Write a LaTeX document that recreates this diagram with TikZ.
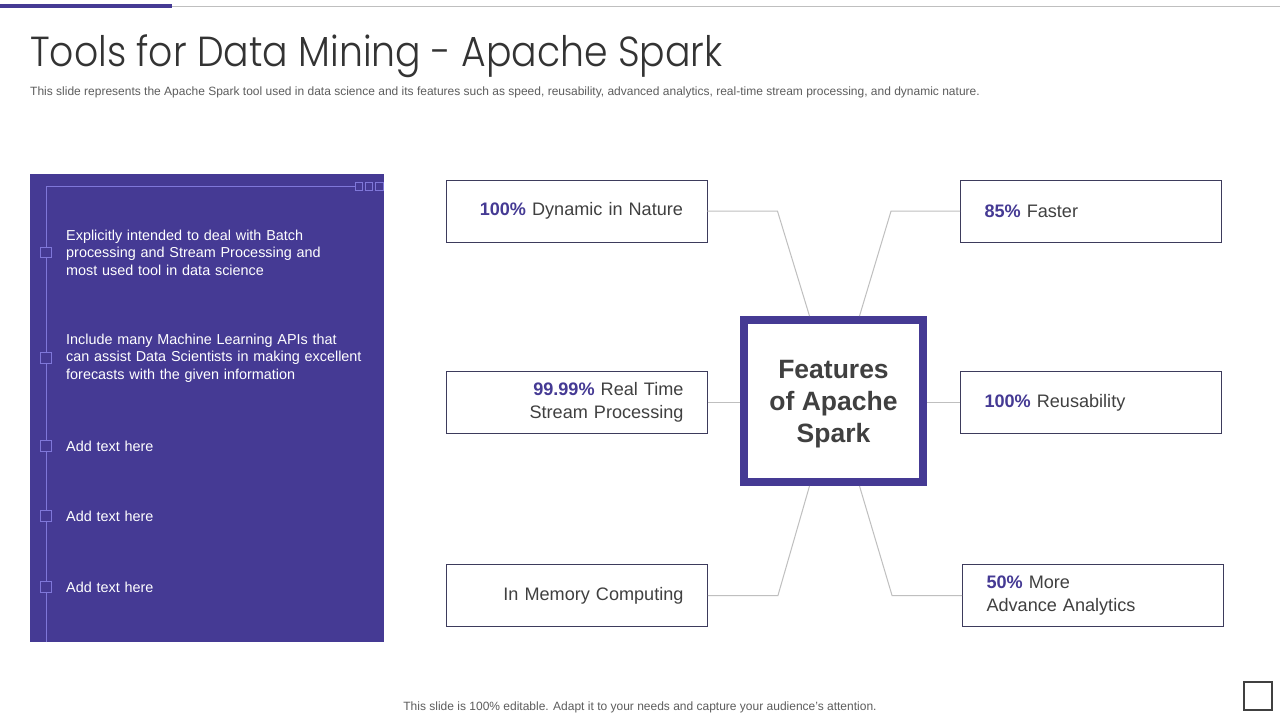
\documentclass[tikz,border=0pt]{standalone}
\usepackage{fontspec}
\setmainfont{Liberation Sans}
\newfontfamily\titlefont[FakeStretch=0.9]{Poppins Light}
\usetikzlibrary{positioning}

\definecolor{spark}{HTML}{453A94}
\definecolor{ink}{HTML}{404040}
\definecolor{frame}{HTML}{3D3B5C}
\definecolor{wire}{HTML}{BFBFBF}
\definecolor{lilac}{HTML}{7F77D9}

\tikzset{
	feature/.style={draw=frame,line width=.9pt,minimum width=261,minimum height=62,
		text width=213,inner xsep=24,inner ysep=0,text=ink,
		font=\fontsize{18.1}{23}\selectfont},
	wire/.style={draw=wire,line width=1pt},
	point/.style={anchor=west,text=white,text width=310,align=left,inner sep=0,
		font=\fontsize{14.4}{17.5}\selectfont},
	bullet/.style={draw=lilac,fill=spark,line width=.9pt,minimum size=10.5,inner sep=0}
}
\newcommand{\pct}[1]{\textbf{\textcolor{spark}{#1}}}

\begin{document}
\begin{tikzpicture}[x=1pt,y=-1pt]
	\useasboundingbox (0,0) rectangle (1280,720);
	\fill[white] (0,0) rectangle (1280,720);
	% top rule and title
	\fill[spark] (0,4) rectangle (172,8.3);
	\draw[wire] (172,6) -- (1280,6);
	\node[anchor=base west,inner sep=0,text=ink!80!black,font=\titlefont\fontsize{42}{50}\selectfont] (title) at (30,66) {Tools for Data Mining - Apache Spark};
	\node[anchor=west,inner sep=0,text=ink!85,font=\fontsize{12}{14}\selectfont] (sub) at (30,92) {This slide represents the Apache Spark tool used in data science and its features such as speed, reusability, advanced analytics, real-time stream processing, and dynamic nature.};
	% left panel
	\node[fill=spark,minimum width=354,minimum height=468,anchor=north west,inner sep=0] (panel) at (30,174) {};
	\draw[lilac,line width=.9pt] (panel.south west) ++(16,0) |- (355,186.5);
	\foreach \x in {359,369,379.5}
		\node[bullet,minimum size=7.5] at (\x,186.5) {};
	\foreach \y in {252.5,358,446,516,587}
		\node[bullet] at (46,\y) {};
	\node[point] (p1) at (66,252.5) {Explicitly intended to deal with Batch\\processing and Stream Processing and\\most used tool in data science};
	\node[point] (p2) at (66,358) {Include many Machine Learning APIs that\\can assist Data Scientists in making excellent\\forecasts with the given information};
	\node[point] (p3) at (66,446) {Add text here};
	\node[point] (p4) at (66,516) {Add text here};
	\node[point] (p5) at (66,587) {Add text here};
	% centre and features
	\node[draw=spark,line width=8pt,minimum width=179,minimum height=162] (core) at (833.5,401) {};
	\node[align=center,text=ink,font=\fontsize{26.5}{32}\selectfont\bfseries] (corename) at ([yshift=-3]core.center) {Features\\of Apache\\Spark};
	\node[feature,align=right] (dyn) at (576.5,211) {\pct{100\%} Dynamic in Nature};
	\node[feature,align=right] (rts) at (577,402.5) {\pct{99.99\%} Real Time\\Stream Processing};
	\node[feature,align=right] (mem) at (577,595.5) {In Memory Computing};
	\node[feature,align=left] (fast) at (1091,211) {\pct{85\%} Faster};
	\node[feature,align=left] (reuse) at (1091,402.5) {\pct{100\%} Reusability};
	\node[feature,align=left] (adv) at (1093,595.5) {\pct{50\%} More\\Advance Analytics};
	\draw[wire] (dyn.east) -- ++(70,0) -- ([xshift=-24]core.north);
	\draw[wire] (fast.west) -- ++(-69,0) -- ([xshift=26]core.north);
	\draw[wire] (rts.east) -- (rts.east -| core.west);
	\draw[wire] (reuse.west) -- (reuse.west -| core.east);
	\draw[wire] (mem.east) -- ++(70,0) -- ([xshift=-24]core.south);
	\draw[wire] (adv.west) -- ++(-70,0) -- ([xshift=26]core.south);
	% footer
	\node[inner sep=0,text=ink!85,font=\fontsize{12}{14}\selectfont] (foot) at (640,707) {This slide is 100\% editable. Adapt it to your needs and capture your audience's attention.};
	\node[draw=ink,line width=1.1pt,minimum size=28,inner sep=0] (corner) at (1258,696) {};
\end{tikzpicture}
\end{document}
